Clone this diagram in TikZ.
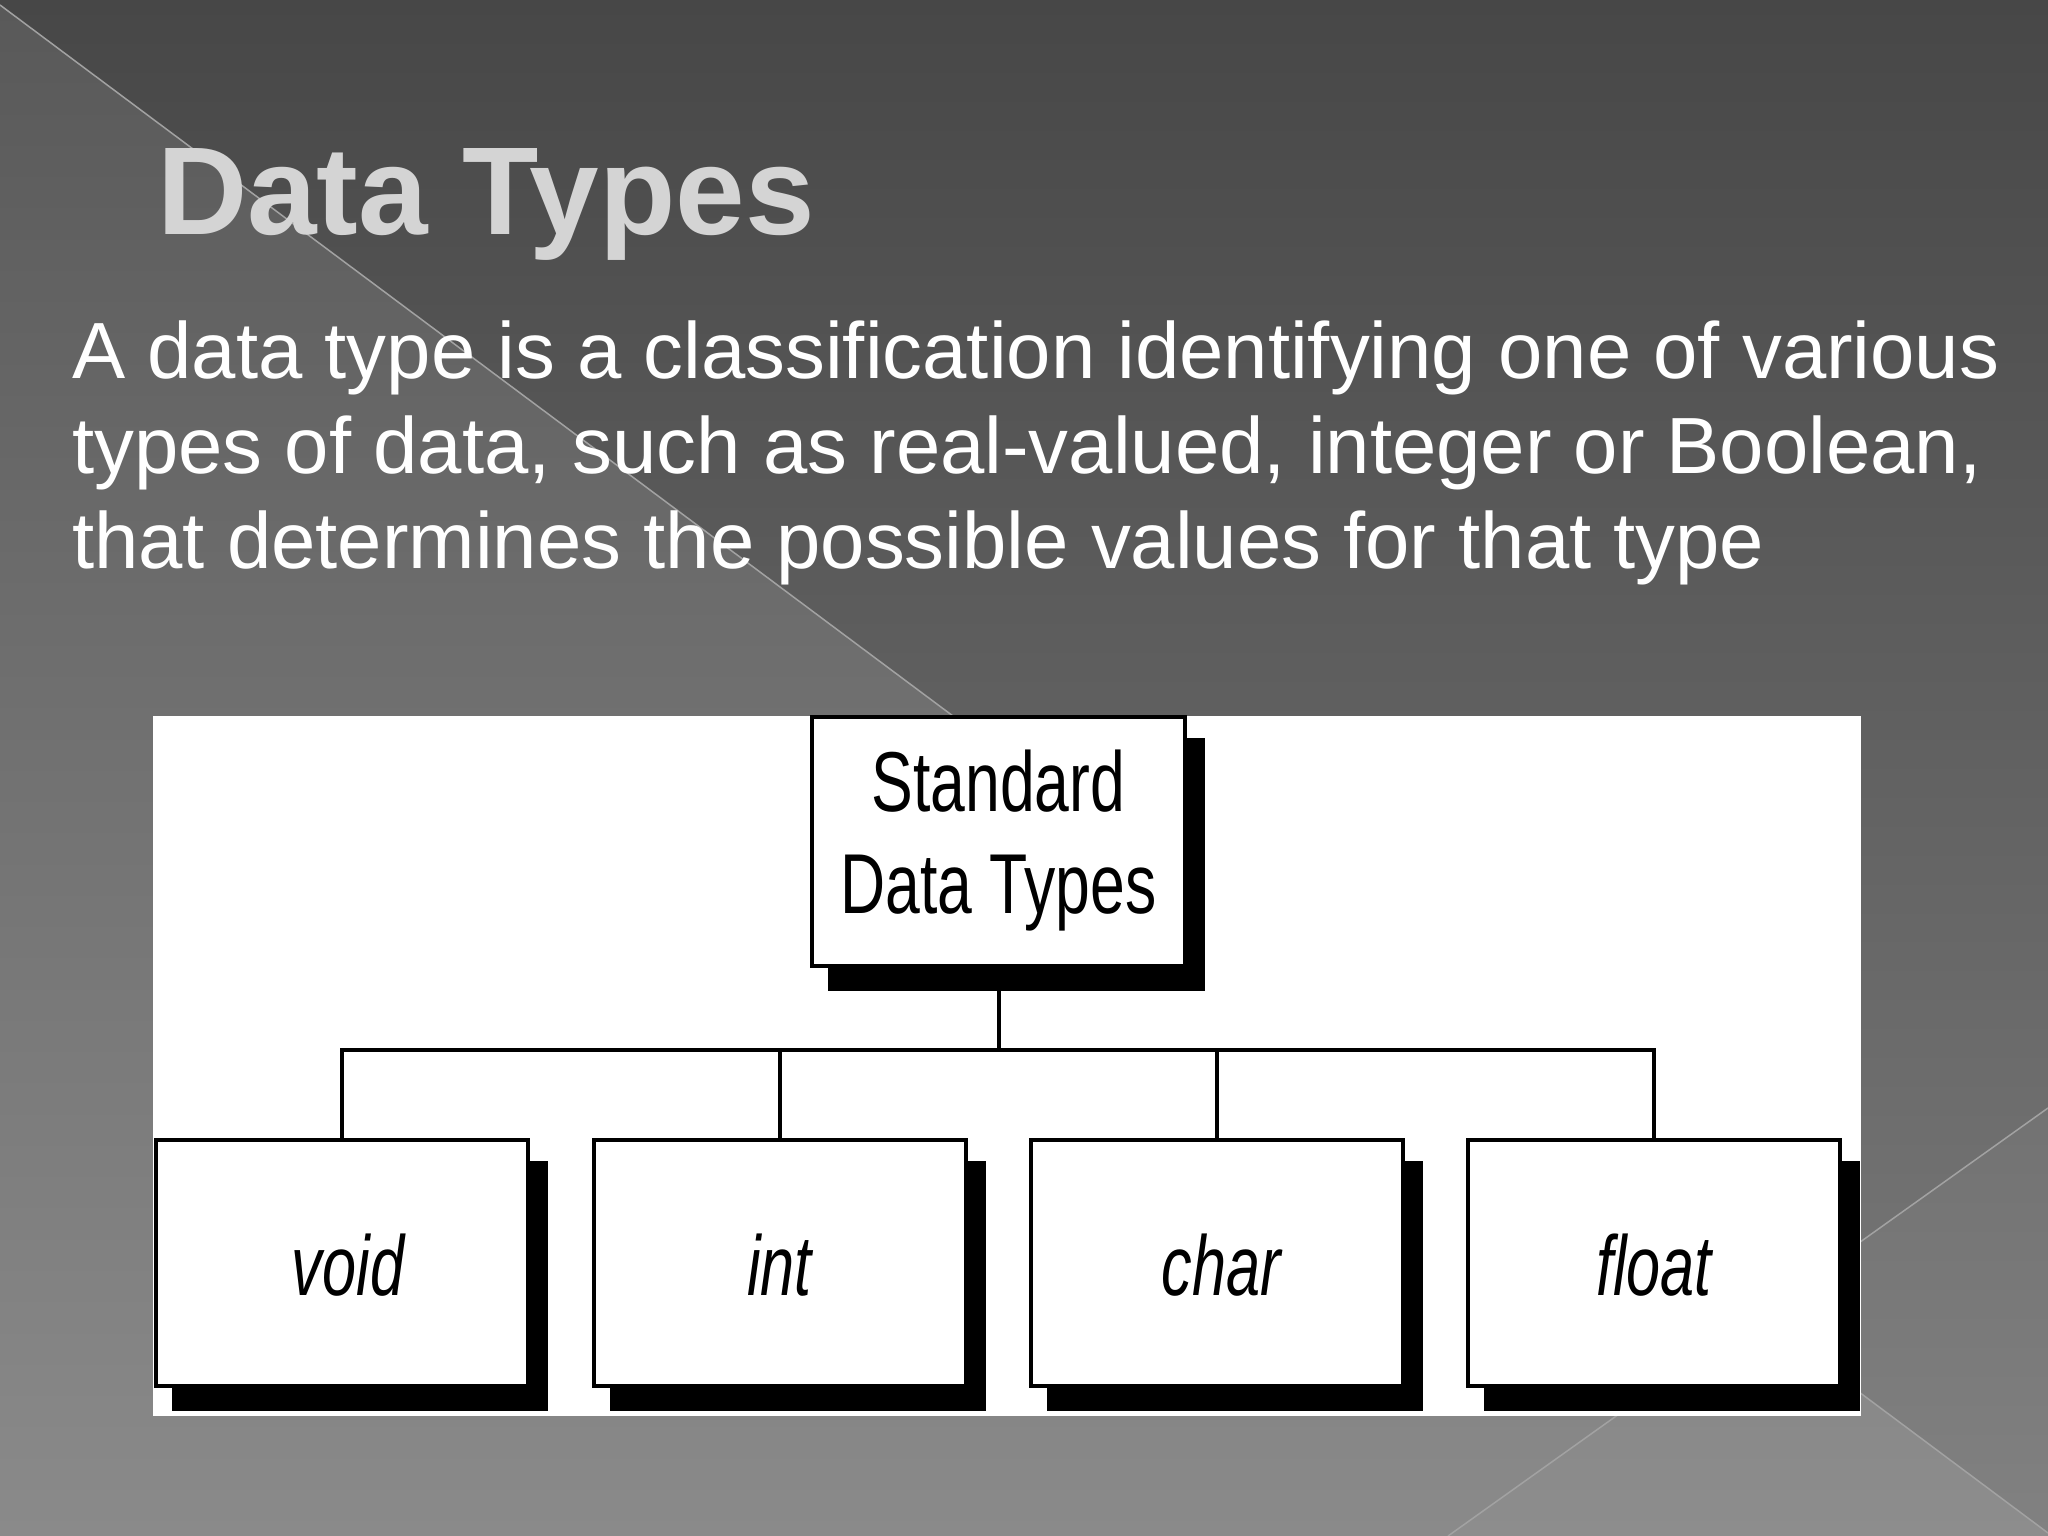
\documentclass[tikz,border=0pt]{standalone}
\usepackage{fontspec}
\setmainfont{Liberation Sans}
\newfontfamily\boxfont[FakeStretch=0.72]{Liberation Sans}
\newfontfamily\stdfont[FakeStretch=0.735]{Liberation Sans}
\usetikzlibrary{shadows}
\definecolor{bgtop}{HTML}{474747}
\definecolor{bgbot}{HTML}{7C7C7C}
\definecolor{bltop}{HTML}{595959}
\definecolor{blbot}{HTML}{8A8A8A}
\definecolor{bgline}{HTML}{A2A2A2}
\definecolor{titlegray}{HTML}{D4D4D4}
\tikzset{
  bgedge/.style={draw=bgline, line width=1.5pt},
  bodytext/.style={anchor=base west, inner sep=0pt, text=white, font=\fontsize{79.7}{95}\selectfont},
  typebox/.style={draw=black, line width=4pt, fill=white, inner sep=0pt, outer sep=0pt,
    general shadow={fill=black, draw=black, line width=4pt, shadow xshift=18pt, shadow yshift=-23pt}},
  childbox/.style={typebox, minimum width=372pt, minimum height=246pt, text height=64pt, text depth=0pt,
    font=\boxfont\itshape\fontsize{85}{102}\selectfont},
  conn/.style={draw=black, line width=4pt},
}
\begin{document}
\begin{tikzpicture}[x=1pt,y=-1pt]
\useasboundingbox (0,0) rectangle (2048,1536);
% background
\shade[top color=bgtop, bottom color=bgbot] (0,0) rectangle (2048,1536);
\shade[top color=bltop, bottom color=blbot] (0,5) -- (2048,1533) -- (2048,1536) -- (0,1536) -- cycle;
\fill[white, opacity=0.04] (1756.8,1315.8) -- (2048,1108) -- (2048,1533) -- cycle;
\fill[white, opacity=0.03] (1448,1536) -- (1756.8,1315.8) -- (2048,1533) -- (2048,1536) -- cycle;
\draw[bgedge] (0,5) -- (2048,1533);
\draw[bgedge] (1448,1536) -- (2048,1108);
% title and text
\node[anchor=base west, inner sep=0pt, text=titlegray, font=\bfseries\fontsize{125}{140}\selectfont] (title) at (157,234) {Data Types};
\node[bodytext] (l1) at (72,378) {A data type is a classification identifying one of various};
\node[bodytext] (l2) at (72,473) {types of data, such as real-valued, integer or Boolean,};
\node[bodytext] (l3) at (72,568) {that determines the possible values for that type};
% diagram panel
\fill[white] (153,716) rectangle (1861,1416);
\node[typebox, minimum width=373pt, minimum height=249pt, align=center,
  font=\stdfont\fontsize{85}{102}\selectfont] (std) at (998.5,841) {Standard\\Data Types};
\node[childbox] (void) at (342,1263) {\hspace*{12pt}void};
\node[childbox] (int) at (779.5,1263) {int};
\node[childbox] (char) at (1216.5,1263) {\hspace*{10pt}char};
\node[childbox] (float) at (1654,1263) {float};
\coordinate (bus) at (998.5,1050);
\draw[conn] (std.south) -- (bus);
\draw[conn] (void.north) |- (bus);
\draw[conn] (int.north) |- (bus);
\draw[conn] (char.north) |- (bus);
\draw[conn] (float.north) |- (bus);
\end{tikzpicture}
\end{document}
